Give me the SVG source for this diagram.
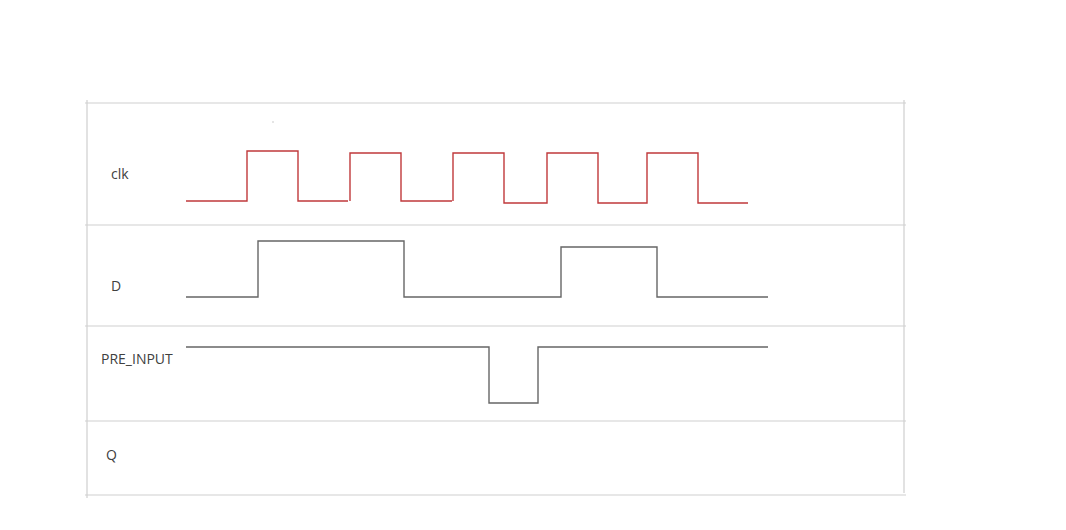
<svg xmlns="http://www.w3.org/2000/svg" width="1066" height="530" viewBox="0 0 1066 530">
<style>
.grid{stroke:#cfcfcf;stroke-width:1.2;fill:none}
.lbl{font-family:"Open Sans","Noto Sans",sans-serif;font-size:14px;fill:#404040}
.clk{stroke:#c0393b;stroke-width:1.4;fill:none}
.sig{stroke:#666;stroke-width:1.4;fill:none}
</style>
<rect width="1066" height="530" fill="#fff"/>
<g id="table">
<line class="grid" x1="87" y1="100" x2="87" y2="498"/>
<line class="grid" x1="904" y1="100" x2="904" y2="493"/>
<line class="grid" x1="85" y1="103" x2="906" y2="103"/>
<line class="grid" x1="85" y1="225" x2="906" y2="225"/>
<line class="grid" x1="85" y1="326" x2="906" y2="326"/>
<line class="grid" x1="85" y1="421" x2="906" y2="421"/>
<line class="grid" x1="85" y1="495" x2="906" y2="495"/>
</g>
<g id="labels">
<text class="lbl" x="111" y="179">clk</text>
<text class="lbl" x="111" y="291">D</text>
<text class="lbl" x="101" y="364">PRE_INPUT</text>
<text class="lbl" x="106" y="460">Q</text>
</g>
<g id="signals">
<rect x="272.5" y="121.5" width="1" height="1" fill="#999"/>
<path id="clk" class="clk" d="M186 201 H247 V151 H298 V201 H348 M350 201 V153 H401 V201 H452 M453 201 V153 H504 V203 H547 V153 H598 V203 H647 V153 H698 V203 H748"/>
<path id="D" class="sig" d="M186 297 H258 V241 H404 V297 H561 V247 H657 V297 H768"/>
<path id="PRE_INPUT" class="sig" d="M186 347 H489 V403 H538 V347 H768"/>
</g>
</svg>
